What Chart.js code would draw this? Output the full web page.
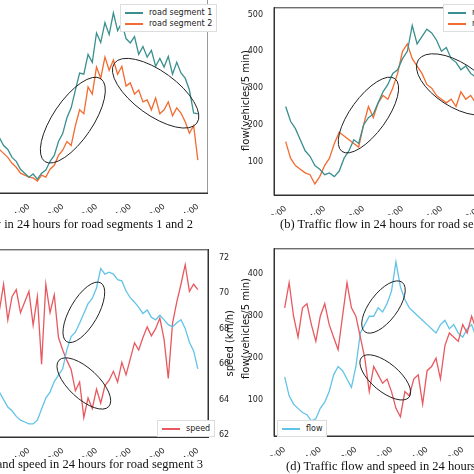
<!DOCTYPE html>
<html><head><meta charset="utf-8">
<script src="https://cdn.jsdelivr.net/npm/chart.js@4.4.0/dist/chart.umd.min.js"></script>
<style>
html,body{margin:0;padding:0;width:474px;height:474px;overflow:hidden;background:#fff;position:relative}
.p{position:absolute}
.cap{position:absolute;font-family:"Liberation Serif","DejaVu Serif",serif;font-size:12.5px;white-space:nowrap;color:#111}
.lg{position:absolute;border:1px solid #ddd;background:#fff;font-family:"DejaVu Sans",sans-serif;font-size:8px;color:#222;padding:2px 4px;line-height:11px;white-space:nowrap}
.lg span{display:inline-block;width:18px;height:2px;vertical-align:middle;margin-right:6px}
.yt{position:absolute;font-family:"DejaVu Sans",sans-serif;font-size:10px;color:#111;white-space:nowrap;writing-mode:vertical-rl;transform:rotate(180deg)}
</style></head><body>
<div class="p" style="left:-89px;top:-8px"><canvas id="ca" width="297" height="236"></canvas></div>
<div class="p" style="left:237px;top:0px"><canvas id="cb" width="294" height="230"></canvas></div>
<div class="p" style="left:-89px;top:242px"><canvas id="cc" width="319" height="230"></canvas></div>
<div class="p" style="left:237px;top:241px"><canvas id="cd" width="294" height="230"></canvas></div>

<div class="lg" style="left:120px;top:4px"><span style="background:#3a8f8f"></span>road segment 1<br><span style="background:#f26b2f"></span>road segment 2</div>
<div class="lg" style="left:443px;top:4px"><span style="background:#3a8f8f"></span>road segment 1<br><span style="background:#f26b2f"></span>road segment 2</div>
<div class="lg" style="left:157px;top:420px"><span style="background:#e8585f"></span>speed</div>
<div class="lg" style="left:277px;top:420px"><span style="background:#62c3e8"></span>flow</div>

<div class="yt" style="left:240px;top:50px">flow(vehicles/5 min)</div>
<div class="yt" style="left:240px;top:278px">flow(vehicles/5 min)</div>
<div class="yt" style="left:224px;top:310px">speed (km/h)</div>

<div class="cap" style="right:281px;top:217px">(a) Traffic flow in 24 hours for road segments 1 and 2</div>
<div class="cap" style="left:280px;top:217px">(b) Traffic flow in 24 hours for road segments 3 and 4</div>
<div class="cap" style="right:271px;top:457px">(c) Traffic flow and speed in 24 hours for road segment 3</div>
<div class="cap" style="left:286px;top:459px">(d) Traffic flow and speed in 24 hours for road segment 4</div>
<script>
const hours=[0,0.5,1,1.5,2,2.5,3,3.5,4,4.5,5,5.5,6,6.5,7,7.5,8,8.5,9,9.5,10,10.5,11,11.5,12,12.5,13,13.5,14,14.5,15,15.5,16,16.5,17,17.5,18,18.5,19,19.5,20,20.5,21,21.5,22,22.5,23,23.5,24];
const xTicks=[0,4,8,12,16,20,24];
const aSeg1=[160,140,120,110,90,80,60,50,40,48,35,50,58,80,95,130,150,190,215,260,303,300,350,330,404,380,430,400,455,410,430,390,379,395,350,370,343,360,320,340,318,345,300,330,303,290,260,202,200];
const aSeg2=[130,110,100,90,75,65,50,45,40,38,30,45,40,60,70,95,108,130,120,170,210,200,268,250,318,290,343,310,336,300,320,270,278,250,260,230,235,210,240,200,210,230,195,215,202,180,151,170,83];
const bSeg1=[250,210,190,160,130,115,90,80,65,70,60,75,110,130,160,150,200,220,230,260,290,310,340,350,380,400,470,420,440,460,450,430,400,410,380,370,350,360,340,330,350,320,330,300,310,290,300,280,290];
const bSeg2=[155,110,90,80,70,65,40,60,90,110,150,180,170,160,150,140,200,250,220,260,280,270,300,340,400,420,380,360,340,310,300,280,270,260,270,250,290,270,280,260,270,250,280,240,250,230,260,240,250];
const cSpeed=[70,69,70.5,68.5,69.8,70.2,68.9,69.5,70.1,68.2,69.8,66,70.5,68.9,69.9,67.5,66.8,66.2,65.7,64.5,65,63,64.1,63.5,64.6,63.8,64.8,65.1,65.6,65,66.1,65.4,66.3,67.2,66.8,67.5,68.1,67.6,68,68.6,67.4,65.2,68.3,69.5,70.5,71.6,70.1,70.5,70.2];
const cFlow=[150,120,100,80,70,55,45,40,35,35,45,75,104,120,148,165,182,234,268,280,304,330,356,370,398,450,435,440,435,420,417,390,372,360,346,330,339,320,313,325,313,300,294,305,313,290,253,230,182];
const dFlow=[155,110,90,80,70,65,50,55,80,95,120,160,180,170,150,130,180,260,280,300,300,320,310,330,360,430,370,340,320,310,300,290,280,270,260,280,290,270,280,260,250,270,280,250,260,240,250,230,240];
const dSpeed=[320,380,300,250,320,330,280,240,300,330,280,250,220,300,380,320,300,250,200,120,180,160,140,150,120,80,60,120,110,150,160,90,170,180,200,150,230,260,250,240,280,260,300,270,290,260,280,250,270];
const bTicks=[100,200,300,400,500], dTicks=[100,200,300,400], cTicks=[62,64,66,68,70,72];
const TEAL='#3a8f8f',ORANGE='#f26b2f',RED='#e8585f',BLUE='#62c3e8';
function pts(v){return v.map((y,i)=>({x:hours[i],y}));}
function ds(v,c,ax){return {data:pts(v),borderColor:c,borderWidth:1.3,pointRadius:0,tension:0,yAxisID:ax||'y'};}
const tickFont={family:'DejaVu Sans',size:8};
function xScale(){return {type:'linear',min:-1.2,max:25.2,grid:{display:false},border:{color:'#333'},
 afterBuildTicks:s=>{s.ticks=xTicks.map(v=>({value:v}));},afterFit:s=>{s.height=20;},
 ticks:{color:'#222',font:tickFont,maxRotation:40,minRotation:40,padding:1,autoSkip:false,callback:v=>v+':00'}};}
function yScale(min,max,ticks,show,pos){return {type:'linear',min,max,position:pos||'left',display:show,grid:{display:false},border:{color:'#333'},
 afterBuildTicks:s=>{if(ticks)s.ticks=ticks.map(v=>({value:v}));},afterFit:s=>{s.width=pos==='right'?22:37;},
 ticks:{color:'#222',font:tickFont,padding:3}};}
const frame={id:'frame',afterDraw(ch){const a=ch.chartArea,c=ch.ctx;c.save();c.strokeStyle='#333';c.lineWidth=1;c.strokeRect(a.left,a.top,a.right-a.left,a.bottom-a.top);
 (ch.options.plugins.ell||[]).forEach(e=>{const x=ch.scales.x.getPixelForValue(e.h),y=ch.scales[e.ax||'y'].getPixelForValue(e.v);
 c.beginPath();c.ellipse(x,y,e.rx,e.ry,e.ang*Math.PI/180,0,2*Math.PI);c.strokeStyle='#222';c.lineWidth=1;c.stroke();});c.restore();}};
function mk(id,datasets,scales,pad,ell){new Chart(document.getElementById(id),{type:'line',data:{datasets},
 options:{responsive:false,animation:false,devicePixelRatio:1,layout:{padding:pad},scales,
 plugins:{legend:{display:false},tooltip:{enabled:false},ell}},plugins:[frame]});}
mk('ca',[ds(aSeg1,TEAL),ds(aSeg2,ORANGE)],{x:xScale(),y:yScale(0,500,null,false)},{top:3,left:37,right:0,bottom:15},
 [{h:9.2,v:184,rx:50,ry:20,ang:-56},{h:19,v:252,rx:51,ry:22,ang:36}]);
mk('cb',[ds(bSeg1,TEAL),ds(bSeg2,ORANGE)],{x:xScale(),y:yScale(10,518,bTicks,true)},{top:3,left:0,right:0,bottom:15},
 [{h:8.5,v:227,rx:45,ry:18,ang:-54},{h:17.5,v:310,rx:45,ry:22,ang:33}]);
mk('cc',[ds(cFlow,BLUE,'y'),ds(cSpeed,RED,'y2')],{x:xScale(),y:yScale(0,500,null,false),y2:yScale(61.9,72.44,cTicks,true,'right')},{top:3,left:37,right:0,bottom:15},
 [{h:10.5,v:333,rx:34,ry:14,ang:-60},{h:10.5,v:143,rx:34,ry:15,ang:43}]);
mk('cd',[ds(dSpeed,RED,'y2'),ds(dFlow,BLUE,'y')],{x:xScale(),y:yScale(14,461,dTicks,true),y2:yScale(14,461,null,false,'right')},{top:3,left:0,right:0,bottom:15},
 [{h:11.1,v:322,rx:31,ry:14,ang:-53},{h:11.3,v:154,rx:31,ry:14,ang:40}]);
</script></body></html>
